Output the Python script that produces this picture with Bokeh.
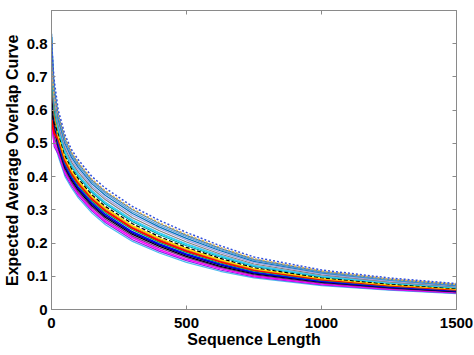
from bokeh.plotting import figure
from bokeh.models import Range1d, FixedTicker, LinearAxis
from bokeh.embed import file_html
from bokeh.resources import INLINE

# Sequence lengths at which the curves were read
seq_len = [1, 5, 10, 25, 50, 75, 100, 150, 200, 300, 400, 500, 625, 750, 1000, 1250, 1500]

# Expected average overlap values
c01 = [0.80, 0.74, 0.69, 0.600, 0.525, 0.480, 0.450, 0.400, 0.365, 0.310, 0.268, 0.232, 0.192, 0.158, 0.119, 0.095, 0.078]
c02 = [0.74, 0.69, 0.64, 0.590, 0.516, 0.472, 0.442, 0.392, 0.357, 0.303, 0.261, 0.226, 0.187, 0.153, 0.116, 0.092, 0.076]
c03 = [0.83, 0.74, 0.67, 0.579, 0.506, 0.463, 0.433, 0.384, 0.349, 0.294, 0.253, 0.219, 0.180, 0.148, 0.112, 0.089, 0.0735]
c04 = [0.82, 0.73, 0.66, 0.572, 0.500, 0.457, 0.427, 0.378, 0.343, 0.289, 0.248, 0.214, 0.177, 0.145, 0.110, 0.088, 0.072]
c05 = [0.78, 0.70, 0.64, 0.564, 0.493, 0.450, 0.420, 0.371, 0.336, 0.283, 0.243, 0.209, 0.172, 0.141, 0.107, 0.085, 0.070]
c06 = [0.76, 0.68, 0.62, 0.555, 0.485, 0.443, 0.413, 0.365, 0.330, 0.276, 0.237, 0.203, 0.167, 0.137, 0.104, 0.083, 0.068]
c07 = [0.82, 0.71, 0.63, 0.547, 0.478, 0.436, 0.406, 0.358, 0.323, 0.270, 0.231, 0.198, 0.163, 0.133, 0.101, 0.081, 0.0666]
c08 = [0.72, 0.65, 0.60, 0.538, 0.470, 0.429, 0.399, 0.352, 0.317, 0.264, 0.225, 0.192, 0.158, 0.130, 0.098, 0.079, 0.065]
c09 = [0.62, 0.58, 0.56, 0.530, 0.463, 0.423, 0.393, 0.345, 0.310, 0.258, 0.219, 0.187, 0.154, 0.126, 0.0955, 0.0765, 0.063]
c10 = [0.80, 0.69, 0.61, 0.523, 0.456, 0.417, 0.387, 0.340, 0.305, 0.252, 0.214, 0.183, 0.150, 0.123, 0.093, 0.0747, 0.0615]
c11 = [0.70, 0.64, 0.58, 0.519, 0.453, 0.413, 0.383, 0.336, 0.301, 0.249, 0.211, 0.180, 0.147, 0.121, 0.092, 0.0735, 0.0606]
c12 = [0.57, 0.55, 0.53, 0.513, 0.448, 0.409, 0.379, 0.332, 0.297, 0.245, 0.207, 0.176, 0.144, 0.1185, 0.090, 0.072, 0.0594]
c13 = [0.76, 0.66, 0.58, 0.506, 0.441, 0.403, 0.373, 0.326, 0.291, 0.240, 0.202, 0.172, 0.140, 0.1155, 0.0875, 0.0702, 0.0579]
c14 = [0.80, 0.68, 0.59, 0.499, 0.435, 0.397, 0.367, 0.321, 0.286, 0.234, 0.197, 0.167, 0.137, 0.112, 0.085, 0.0684, 0.0564]
c15 = [0.66, 0.60, 0.55, 0.494, 0.430, 0.393, 0.363, 0.316, 0.281, 0.230, 0.194, 0.164, 0.134, 0.110, 0.0833, 0.0669, 0.0552]
c16 = [0.64, 0.58, 0.54, 0.488, 0.425, 0.388, 0.358, 0.312, 0.277, 0.226, 0.190, 0.160, 0.130, 0.107, 0.0814, 0.0654, 0.054]
c17 = [0.60, 0.56, 0.52, 0.481, 0.419, 0.382, 0.352, 0.307, 0.272, 0.221, 0.185, 0.156, 0.127, 0.104, 0.079, 0.0636, 0.0525]
c18 = [0.55, 0.53, 0.50, 0.474, 0.413, 0.377, 0.347, 0.301, 0.266, 0.216, 0.180, 0.151, 0.123, 0.101, 0.0767, 0.0617, 0.051]
c19 = [0.58, 0.53, 0.49, 0.467, 0.406, 0.371, 0.341, 0.296, 0.261, 0.210, 0.175, 0.147, 0.119, 0.098, 0.0744, 0.0599, 0.0495]
c20 = [0.62, 0.56, 0.51, 0.460, 0.400, 0.365, 0.335, 0.290, 0.255, 0.205, 0.170, 0.142, 0.115, 0.095, 0.072, 0.058, 0.048]
c21 = [0.78, 0.69, 0.62, 0.544, 0.475, 0.434, 0.404, 0.356, 0.321, 0.268, 0.229, 0.196, 0.161, 0.132, 0.100, 0.080, 0.066]
c22 = [0.81, 0.73, 0.66, 0.586, 0.513, 0.469, 0.439, 0.389, 0.354, 0.300, 0.258, 0.223, 0.184, 0.151, 0.114, 0.091, 0.075]

curves = [c20, c19, c18, c17, c16, c15, c14, c13, c12, c11, c10, c09, c08, c21, c07, c06, c05, c04, c03, c22, c02, c01]
colors = ["#4DBEEE", "#8A2BE2", "#FF00FF", "#7E2F8E", "#000000", "#000080", "#0000FF", "#00B050",
          "#FF0000", "#D95319", "#FFD700", "#000000", "#00A0A0", "#00E5FF", "#4DBEEE", "#808080",
          "#A0A0E0", "#0072BD", "#5B9BD5", "#4682B4", "#E0B050", "#3050E0"]
dashes = ["solid", "solid", "solid", "solid", "solid", "solid", "solid", "solid",
          "solid", "solid", "solid", "4 2", "solid", "solid", "solid", "solid",
          "solid", "solid", "solid", "solid", "2 2", "2 2"]
widths = [1.2, 1.2, 1.5, 1.2, 1.2, 1.5, 1.5, 1.2, 2.0, 1.2, 1.5, 1.2, 1.2, 1.2, 1.2, 1.2,
          1.2, 1.2, 1.2, 1.2, 1.5, 1.5]

x_ticks = [0, 500, 1000, 1500]
y_ticks = [0, 0.1, 0.2, 0.3, 0.4, 0.5, 0.6, 0.7, 0.8]
y_tick_labels = ["0", "0.1", "0.2", "0.3", "0.4", "0.5", "0.6", "0.7", "0.8"]
x_max = 1500
y_max = 0.9

gray = "#8a8a8a"
font = "Liberation Sans"

p = figure(width=474, height=355, output_backend="svg", toolbar_location=None,
           x_range=Range1d(0, x_max), y_range=Range1d(0, y_max),
           min_border_left=49, min_border_right=18, min_border_top=10, min_border_bottom=46)
p.background_fill_color = "white"
p.border_fill_color = "white"
p.grid.visible = False
p.outline_line_color = gray

for ys, c, d, w in zip(curves, colors, dashes, widths):
    p.line(seq_len, ys, line_color=c, line_dash=d, line_width=w)

p.xaxis.ticker = FixedTicker(ticks=x_ticks)
p.yaxis.ticker = FixedTicker(ticks=y_ticks)
p.yaxis.major_label_overrides = {t: l for t, l in zip(y_ticks, y_tick_labels)}
p.xaxis.axis_label = "Sequence Length"
p.yaxis.axis_label = "Expected Average Overlap Curve"

for ax in [p.xaxis[0], p.yaxis[0]]:
    ax.axis_line_color = gray
    ax.major_tick_line_color = gray
    ax.major_tick_in = 4
    ax.major_tick_out = 0
    ax.minor_tick_line_color = None
    ax.major_label_text_font = font
    ax.major_label_text_font_style = "bold"
    ax.major_label_text_font_size = "15px"
    ax.major_label_text_color = "black"
    ax.axis_label_text_font = font
    ax.axis_label_text_font_style = "bold"
    ax.axis_label_text_font_size = "16px"
    ax.axis_label_text_color = "black"

p.xaxis.major_label_standoff = 8
p.xaxis.axis_label_standoff = 0
p.yaxis.major_label_standoff = 4
p.yaxis.axis_label_standoff = 3

# box sides on top and right with inward ticks (labels hidden)
top_ax = LinearAxis(ticker=FixedTicker(ticks=x_ticks))
right_ax = LinearAxis(ticker=FixedTicker(ticks=y_ticks))
for ax in [top_ax, right_ax]:
    ax.axis_line_color = gray
    ax.major_tick_line_color = gray
    ax.major_tick_in = 4
    ax.major_tick_out = 0
    ax.minor_tick_line_color = None
    ax.major_label_text_font_size = "0px"
    ax.major_label_standoff = 0
p.add_layout(top_ax, "above")
p.add_layout(right_ax, "right")

open("out.html", "w").write(file_html(p, INLINE))
